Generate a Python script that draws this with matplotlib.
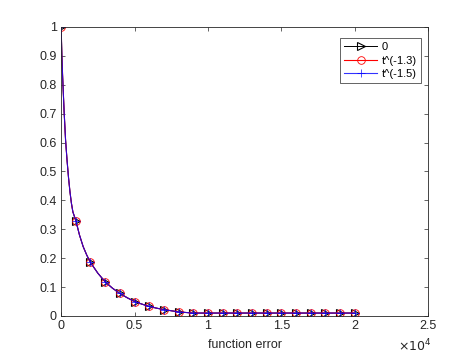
import numpy as np
import matplotlib
matplotlib.use("Agg")
import matplotlib.pyplot as plt
from matplotlib.ticker import FuncFormatter

plt.rcParams['font.family'] = ['Liberation Sans', 'DejaVu Sans']

t = [0, 50, 100, 200, 300, 400, 500, 600, 700, 800, 1000, 1250, 1500, 1750,
     2000, 2500, 3000, 3500, 4000, 4500, 5000, 5500, 6000, 6500, 7000, 7500,
     8000, 8500, 9000, 10000, 11000, 12000, 13000, 14000, 15000, 16000,
     17000, 18000, 19000, 20000]
err_0 = [1.0, 0.90, 0.83, 0.71, 0.61, 0.54, 0.48, 0.43, 0.39, 0.36, 0.33,
         0.28, 0.24, 0.21, 0.185, 0.148, 0.118, 0.096, 0.078, 0.063, 0.05,
         0.041, 0.033, 0.027, 0.022, 0.018, 0.014, 0.012, 0.01, 0.01, 0.01,
         0.01, 0.01, 0.01, 0.01, 0.01, 0.01, 0.01, 0.01, 0.01]
err_13 = list(err_0)
err_15 = list(err_0)
labels = ['0', 't^(-1.3)', 't^(-1.5)']

marks = [i for i, v in enumerate(t) if v % 1000 == 0]

fig = plt.figure(figsize=(4.74, 3.55), dpi=100)
ax = fig.add_axes([0.129, 0.110, 0.774, 0.814])

ax.plot(t, err_0, color='black', lw=0.7, marker='>', ms=5.5, mfc='none',
        mew=0.8, markevery=marks, label=labels[0])
ax.plot(t, err_13, color='red', lw=0.8, marker='o', ms=5.5, mfc='none',
        mew=0.6, markevery=marks, label=labels[1])
ax.plot(t, err_15, color='blue', lw=0.8, marker='+', ms=5.5, mew=0.6,
        alpha=0.8, markevery=marks, label=labels[2])

ax.set_xlim(0, 25000)
ax.set_ylim(0, 1)
ax.set_xticks(np.arange(0, 25001, 5000))
ax.set_yticks(np.arange(0, 1.01, 0.1))
ax.xaxis.set_major_formatter(FuncFormatter(lambda v, p: '%g' % (v / 1e4)))
ax.yaxis.set_major_formatter(FuncFormatter(lambda v, p: '%g' % round(v, 1)))
ax.tick_params(direction='in', length=3, width=0.5, labelsize=9,
               colors='#262626', top=True, right=True, pad=3)
for s in ax.spines.values():
    s.set_linewidth(0.6)
    s.set_color('#262626')

ax.set_xlabel('function error', fontsize=9, color='#262626', labelpad=5)
ax.text(1.01, -0.075, r'$\times10^{4}$', transform=ax.transAxes,
        ha='right', va='top', fontsize=9, color='#262626')

leg = ax.legend(loc='upper right', bbox_to_anchor=(0.995, 0.98), fontsize=8,
                fancybox=False, framealpha=1, edgecolor='#262626',
                handlelength=3.0, borderpad=0.35, labelspacing=0.3,
                handletextpad=0.4)
leg.get_frame().set_linewidth(0.5)

fig.savefig('out.png', dpi=100)
